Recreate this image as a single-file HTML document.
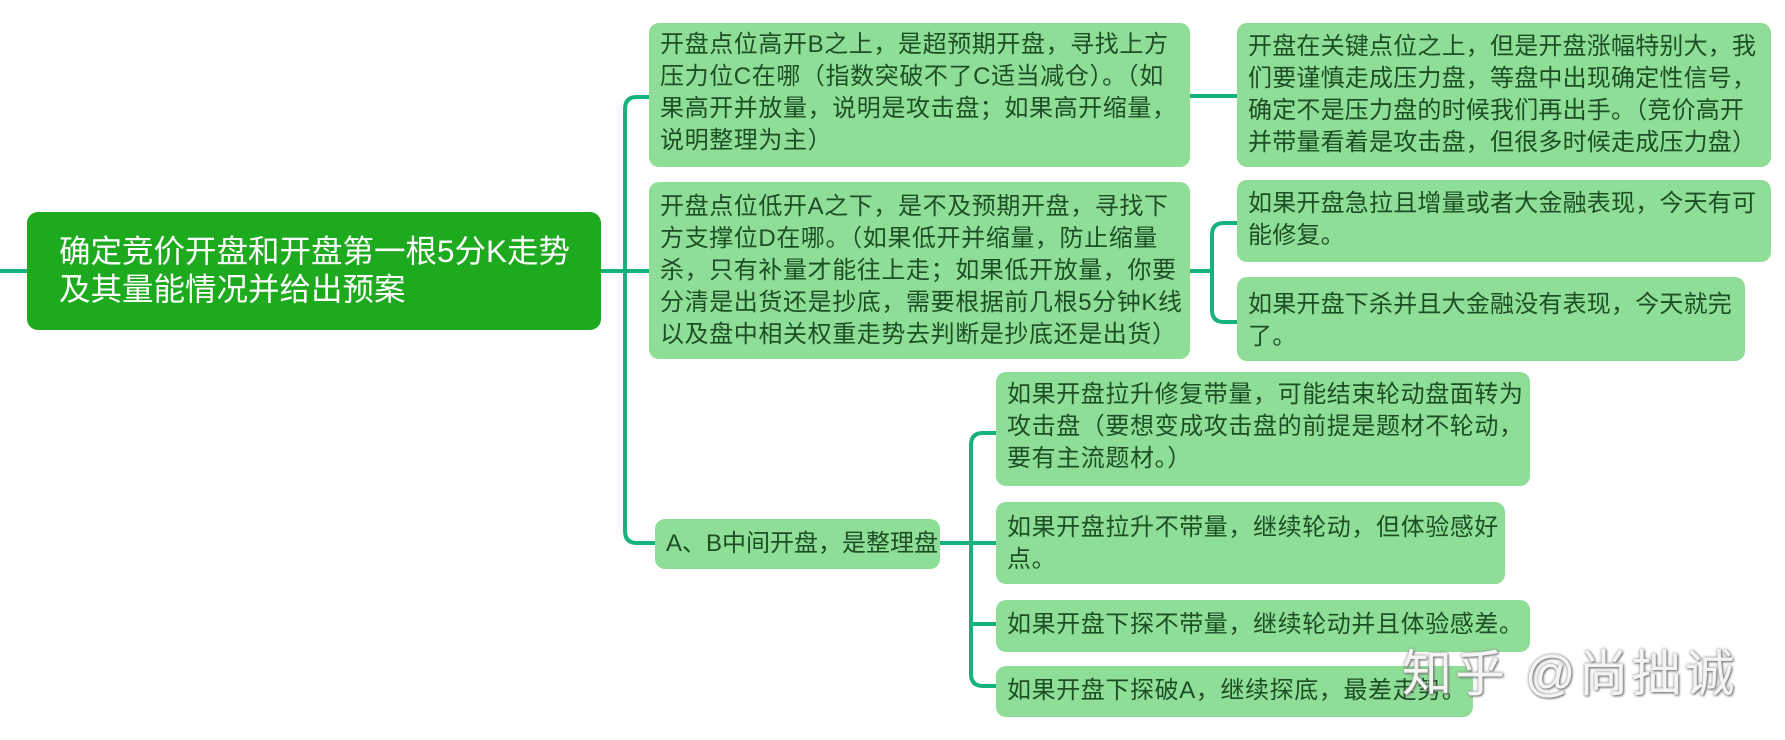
<!DOCTYPE html>
<html><head><meta charset="utf-8"><style>
body{margin:0;width:1785px;height:740px;background:#fff;position:relative;overflow:hidden;font-family:"Liberation Sans","Noto Sans CJK SC",sans-serif;}
.n{position:absolute;background:#8fde97;border-radius:10px;color:#1d4f24;font-size:24px;line-height:32px;padding:6px 11px;box-sizing:border-box;white-space:nowrap;letter-spacing:0.6px;}
.root{position:absolute;left:27px;top:212px;width:574px;height:118px;background:#1eaa1e;border-radius:11px;color:#fff;font-size:31.5px;line-height:38px;padding:20px 0 0 32px;box-sizing:border-box;white-space:nowrap;}
svg{position:absolute;left:0;top:0}
.wm{position:absolute;left:1402px;top:634px;font-size:50px;color:#f4f4f4;text-shadow:0 0 3px #888,1px 1px 2px #666;white-space:nowrap;letter-spacing:3px}
</style></head><body>
<svg width="1785" height="740" fill="none" stroke="#16b27c" stroke-width="4">
<path d="M0 271H27"/>
<path d="M601 271H625"/>
<path d="M649 97H637Q625 97 625 109V531Q625 543 637 543H655"/>
<path d="M625 271H649"/>
<path d="M1190 96H1237"/>
<path d="M1190 271H1212"/>
<path d="M1237 223H1224Q1212 223 1212 235V310Q1212 322 1224 322H1237"/>
<path d="M940 543H996"/>
<path d="M996 433H983Q971 433 971 445V674Q971 686 983 686H996"/>
<path d="M971 624Q971 624 983 624H996"/>
</svg>
<div class="root">确定竞价开盘和开盘第一根5分K走势<br>及其量能情况并给出预案</div>
<div class="n" style="left:649px;top:23px;width:541px;height:144px">开盘点位高开B之上，是超预期开盘，寻找上方<br>压力位C在哪（指数突破不了C适当减仓）。（如<br>果高开并放量，说明是攻击盘；如果高开缩量，<br>说明整理为主）</div>
<div class="n" style="left:649px;top:182px;width:541px;height:177px;padding-top:9px">开盘点位低开A之下，是不及预期开盘，寻找下<br>方支撑位D在哪。（如果低开并缩量，防止缩量<br>杀，只有补量才能往上走；如果低开放量，你要<br>分清是出货还是抄底，需要根据前几根5分钟K线<br>以及盘中相关权重走势去判断是抄底还是出货）</div>
<div class="n" style="left:655px;top:519px;width:285px;height:50px;padding-top:9px;letter-spacing:0">A、B中间开盘，是整理盘</div>
<div class="n" style="left:1237px;top:23px;width:534px;height:144px;padding-top:8px;letter-spacing:0.2px">开盘在关键点位之上，但是开盘涨幅特别大，我<br>们要谨慎走成压力盘，等盘中出现确定性信号，<br>确定不是压力盘的时候我们再出手。（竞价高开<br>并带量看着是攻击盘，但很多时候走成压力盘）</div>
<div class="n" style="left:1237px;top:180px;width:534px;height:82px;padding-top:8px;letter-spacing:0.2px">如果开盘急拉且增量或者大金融表现，今天有可<br>能修复。</div>
<div class="n" style="left:1237px;top:277px;width:508px;height:84px;padding-top:12px;letter-spacing:0.2px">如果开盘下杀并且大金融没有表现，今天就完<br>了。</div>
<div class="n" style="left:996px;top:372px;width:534px;height:114px;padding-top:7px">如果开盘拉升修复带量，可能结束轮动盘面转为<br>攻击盘（要想变成攻击盘的前提是题材不轮动，<br>要有主流题材。）</div>
<div class="n" style="left:996px;top:502px;width:509px;height:82px;padding-top:10px">如果开盘拉升不带量，继续轮动，但体验感好<br>点。</div>
<div class="n" style="left:996px;top:600px;width:534px;height:52px;padding-top:9px">如果开盘下探不带量，继续轮动并且体验感差。</div>
<div class="n" style="left:996px;top:666px;width:477px;height:51px;padding-top:9px">如果开盘下探破A，继续探底，最差走势。</div>
<div class="wm">知乎 @尚拙诚</div>
</body></html>
